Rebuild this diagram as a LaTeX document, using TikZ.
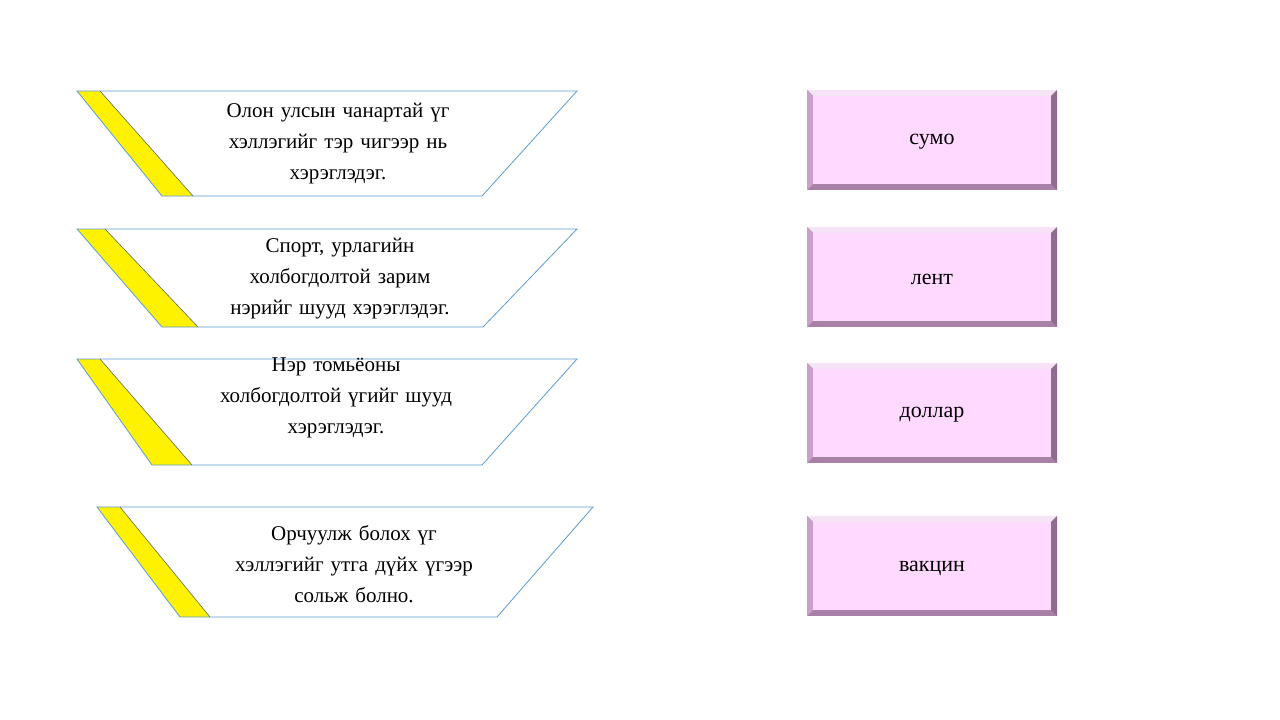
\documentclass[tikz,border=0pt]{standalone}
\usepackage{fontspec}
\setmainfont{Liberation Serif}
\definecolor{pinkf}{HTML}{FFD9FF}
\definecolor{pinkl}{HTML}{F6E4F6}
\definecolor{pinkd}{HTML}{A880A8}
\definecolor{pinkm}{HTML}{C8A0C8}
\definecolor{edgeb}{HTML}{5B9BD5}
\newcommand{\lshape}[9]{%
 % #1 top y, #2 bottom y, #3 top-left x, #4 top-right x, #5 bottom-left x, #6 bottom-right x, #7 yellow top right x, #8 yellow bottom right x, #9 name
 \fill[white] (#3,#1) -- (#4,#1) -- (#6,#2) -- (#5,#2) -- cycle;
 \fill[yellow] (#3,#1) -- (#7,#1) -- (#8,#2) -- (#5,#2) -- cycle;
 \draw[edgeb, line width=0.8pt] (#3,#1) -- (#4,#1) -- (#6,#2) -- (#5,#2) -- cycle;
 \draw[black!60, line width=0.6pt] (#7,#1) -- (#8,#2);
}
\newcommand{\btn}[3]{%
 % #1 top y, #2 name, #3 text
 \fill[pinkd] (807,#1) -- (1057,#1) -- (1057,#1+100) -- (807,#1+100) -- cycle;
 \fill[pinkl] (807,#1) -- (1057,#1) -- (1051,#1+6) -- (813,#1+6) -- cycle;
 \fill[pinkm] (807,#1) -- (813,#1+6) -- (813,#1+94) -- (807,#1+100) -- cycle;
 \fill[pinkd!85!black] (1057,#1) -- (1057,#1+100) -- (1051,#1+94) -- (1051,#1+6) -- cycle;
 \fill[pinkf] (813,#1+6) rectangle (1051,#1+94);
 \node[font=\fontsize{22}{26}\selectfont] (#2) at (932,#1+52) {#3};
}
\begin{document}
\begin{tikzpicture}[x=1pt,y=-1pt,
 ltext/.style={align=center,font=\fontsize{21}{31}\selectfont,text width=300pt}]
\useasboundingbox[fill=white] (0,0) rectangle (1280,720);
\lshape{91}{196}{77}{577}{162}{482}{100}{193}{a}
\node[ltext] (t1) at (338,144) {Олон улсын чанартай үг\\хэллэгийг тэр чигээр нь\\хэрэглэдэг.};
\lshape{229}{327}{77}{577}{162}{483}{105}{198}{b}
\node[ltext] (t2) at (340,279) {Спорт, урлагийн\\холбогдолтой зарим\\нэрийг шууд хэрэглэдэг.};
\lshape{359}{465}{77}{577}{152}{482}{100}{192}{c}
\node[ltext] (t3) at (336,398) {Нэр томьёоны\\холбогдолтой үгийг шууд\\хэрэглэдэг.};
\lshape{507}{617}{97}{593}{180}{497}{120}{210}{d}
\node[ltext] (t4) at (354,564) {Орчуулж болох үг\\хэллэгийг утга дүйх үгээр\\сольж болно.};
\btn{90}{b1}{сумо}
\btn{227}{b2}{лент}
\btn{363}{b3}{доллар}
\btn{516}{b4}{вакцин}
\end{tikzpicture}
\end{document}
